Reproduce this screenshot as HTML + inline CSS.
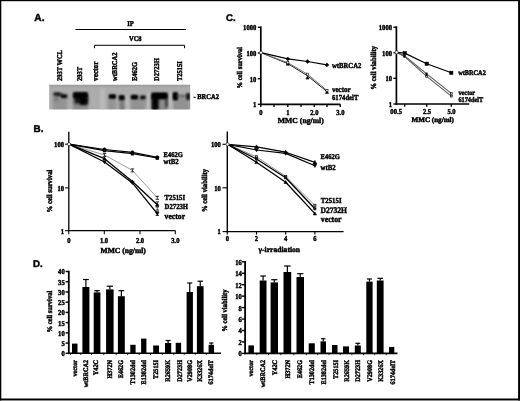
<!DOCTYPE html>
<html lang="en">
<head>
<meta charset="utf-8">
<title>Figure</title>
<style>
html,body{margin:0;padding:0;background:#fff;}
body{width:520px;height:401px;overflow:hidden;}
svg{display:block;}
text{fill:#000;stroke:#000;stroke-width:0.45px;stroke-linejoin:round;}
</style>
</head>
<body>
<svg width="520" height="401" viewBox="0 0 520 401" text-rendering="geometricPrecision">
<defs><filter id="soft" x="0" y="0" width="100%" height="100%" filterUnits="userSpaceOnUse"><feGaussianBlur stdDeviation="0.4"/></filter></defs>
<g filter="url(#soft)">
<rect x="0" y="0" width="520" height="401" fill="#fff"/>
<text x="34.30" y="20.80" font-size="10.2" text-anchor="start" font-weight="bold" font-family='"Liberation Sans", sans-serif'>A.</text>
<text x="33.60" y="132.40" font-size="9.9" text-anchor="start" font-weight="bold" font-family='"Liberation Sans", sans-serif'>B.</text>
<text x="225.90" y="20.70" font-size="9.7" text-anchor="start" font-weight="bold" font-family='"Liberation Sans", sans-serif'>C.</text>
<text x="33.10" y="267.30" font-size="9.7" text-anchor="start" font-weight="bold" font-family='"Liberation Sans", sans-serif'>D.</text>
<text x="0.00" y="0.00" font-size="7.34" text-anchor="middle" font-weight="bold" font-family='"Liberation Serif", serif' transform="translate(130.60 26.00) rotate(0) scale(0.885 1)">IP</text>
<line x1="75.50" y1="29.50" x2="186.00" y2="29.50" stroke="#000" stroke-width="1.0"/>
<text x="0.00" y="0.00" font-size="7.34" text-anchor="middle" font-weight="bold" font-family='"Liberation Serif", serif' transform="translate(135.30 41.00) rotate(0) scale(0.885 1)">VC8</text>
<polyline points="94.50,48.20 94.50,45.30 184.50,45.30 184.50,48.20" fill="none" stroke="#000" stroke-width="1.0" stroke-linejoin="round"/>
<text x="0.00" y="0.00" font-size="7.34" text-anchor="start" font-weight="bold" font-family='"Liberation Serif", serif' transform="translate(62.30 81.00) rotate(-90) scale(0.885 1)">293T WCL</text>
<text x="0.00" y="0.00" font-size="7.34" text-anchor="start" font-weight="bold" font-family='"Liberation Serif", serif' transform="translate(81.70 81.00) rotate(-90) scale(0.885 1)">293T</text>
<text x="0.00" y="0.00" font-size="8.25" text-anchor="start" font-weight="bold" font-family='"Liberation Serif", serif' transform="translate(97.50 81.00) rotate(-90) scale(0.885 1)">vector</text>
<text x="0.00" y="0.00" font-size="7.34" text-anchor="start" font-weight="bold" font-family='"Liberation Serif", serif' transform="translate(116.50 81.00) rotate(-90) scale(0.885 1)">wtBRCA2</text>
<text x="0.00" y="0.00" font-size="7.34" text-anchor="start" font-weight="bold" font-family='"Liberation Serif", serif' transform="translate(136.50 81.00) rotate(-90) scale(0.885 1)">E462G</text>
<text x="0.00" y="0.00" font-size="7.34" text-anchor="start" font-weight="bold" font-family='"Liberation Serif", serif' transform="translate(158.50 81.00) rotate(-90) scale(0.885 1)">D2723H</text>
<text x="0.00" y="0.00" font-size="7.34" text-anchor="start" font-weight="bold" font-family='"Liberation Serif", serif' transform="translate(182.00 81.00) rotate(-90) scale(0.885 1)">T2515I</text>
<defs><filter id="b1" x="-30%" y="-60%" width="160%" height="220%"><feGaussianBlur stdDeviation="1.1"/></filter><filter id="b2" x="-30%" y="-60%" width="160%" height="220%"><feGaussianBlur stdDeviation="1.8"/></filter><clipPath id="blotclip"><rect x="49.2" y="84.8" width="141" height="24.6"/></clipPath></defs>
<rect x="49.20" y="84.80" width="141.00" height="24.60" fill="#acacac" stroke="none" stroke-width="0"/>
<g clip-path="url(#blotclip)">
<rect x="49" y="83.5" width="142" height="2.5" fill="#888" opacity="0.6" filter="url(#b1)"/>
<rect x="53" y="97" width="14" height="14" fill="#777" opacity="0.45" filter="url(#b2)"/>
<rect x="73" y="97" width="15" height="14" fill="#666" opacity="0.5" filter="url(#b2)"/>
<rect x="108" y="98" width="8" height="13" fill="#777" opacity="0.45" filter="url(#b2)"/>
<rect x="119.5" y="98" width="5" height="13" fill="#555" opacity="0.6" filter="url(#b2)"/>
<rect x="130.5" y="98" width="15" height="13" fill="#777" opacity="0.5" filter="url(#b2)"/>
<rect x="151.5" y="97" width="16" height="14" fill="#555" opacity="0.6" filter="url(#b2)"/>
<rect x="173" y="97" width="16.5" height="14" fill="#777" opacity="0.5" filter="url(#b2)"/>
<rect x="100" y="88" width="5" height="22" fill="#c4c4c4" opacity="0.6" filter="url(#b2)"/>
<rect x="126" y="96" width="3.5" height="14" fill="#c4c4c4" opacity="0.6" filter="url(#b2)"/>
<rect x="147.2" y="92" width="3.2" height="18" fill="#c8c8c8" opacity="0.7" filter="url(#b2)"/>
<rect x="169.2" y="92" width="3.0" height="18" fill="#c8c8c8" opacity="0.7" filter="url(#b2)"/>
<rect x="53.5" y="92.6" width="7" height="3.0" fill="#000" opacity="1" filter="url(#b1)"/>
<rect x="57" y="93.6" width="6" height="2.6" fill="#222" opacity="0.85" filter="url(#b1)"/>
<rect x="61" y="94.4" width="6.2" height="3.6" fill="#000" opacity="1" filter="url(#b1)"/>
<rect x="54" y="96" width="4" height="5" fill="#555" opacity="0.5" filter="url(#b2)"/>
<rect x="73.3" y="92.3" width="14.2" height="5.5" fill="#000" opacity="1" filter="url(#b1)"/>
<rect x="73.8" y="93.0" width="13.5" height="4.5" fill="#000" opacity="1" filter="url(#b1)"/>
<rect x="74.5" y="96" width="13" height="7.5" fill="#000" opacity="0.9" filter="url(#b2)"/>
<rect x="80" y="98" width="7.5" height="7" fill="#000" opacity="0.85" filter="url(#b1)"/>
<rect x="108.8" y="94.6" width="7" height="3.8" fill="#000" opacity="1" filter="url(#b1)"/>
<rect x="110" y="95.0" width="5" height="3.0" fill="#000" opacity="1" filter="url(#b1)"/>
<rect x="118.8" y="95.4" width="5.6" height="4.2" fill="#000" opacity="1" filter="url(#b1)"/>
<rect x="120" y="96.0" width="3.6" height="3.4" fill="#000" opacity="1" filter="url(#b1)"/>
<rect x="130.8" y="95.2" width="7.2" height="3.8" fill="#000" opacity="1" filter="url(#b1)"/>
<rect x="132" y="95.6" width="5" height="3.0" fill="#000" opacity="1" filter="url(#b1)"/>
<rect x="140.2" y="95.6" width="5.4" height="3.6" fill="#000" opacity="1" filter="url(#b1)"/>
<rect x="151.5" y="92.8" width="16" height="6" fill="#000" opacity="1" filter="url(#b1)"/>
<rect x="152" y="93.4" width="15" height="5" fill="#000" opacity="1" filter="url(#b1)"/>
<rect x="152" y="97" width="7" height="13" fill="#000" opacity="0.9" filter="url(#b2)"/>
<rect x="152.5" y="99" width="4" height="11" fill="#000" opacity="0.7" filter="url(#b1)"/>
<rect x="165" y="98" width="2.6" height="9" fill="#222" opacity="0.7" filter="url(#b1)"/>
<rect x="159.5" y="100.5" width="5" height="9" fill="#999" opacity="0.7" filter="url(#b1)"/>
<rect x="173" y="92.4" width="4.6" height="7.6" fill="#000" opacity="1" filter="url(#b1)"/>
<rect x="173.4" y="93" width="4" height="6.4" fill="#000" opacity="1" filter="url(#b1)"/>
<rect x="177" y="94.6" width="10" height="2.6" fill="#555" opacity="0.8" filter="url(#b1)"/>
<rect x="186.4" y="93.2" width="3.4" height="6.6" fill="#000" opacity="1" filter="url(#b1)"/>
</g>
<text x="0.00" y="0.00" font-size="7.34" text-anchor="start" font-weight="bold" font-family='"Liberation Serif", serif' transform="translate(193.50 99.00) rotate(0) scale(0.885 1)">- BRCA2</text>
<line x1="260.80" y1="26.45" x2="260.80" y2="105.15" stroke="#000" stroke-width="1.7"/>
<line x1="259.95" y1="104.30" x2="340.30" y2="104.30" stroke="#000" stroke-width="1.7"/>
<line x1="257.80" y1="27.30" x2="260.80" y2="27.30" stroke="#000" stroke-width="1.36"/>
<line x1="257.80" y1="53.00" x2="260.80" y2="53.00" stroke="#000" stroke-width="1.36"/>
<line x1="257.80" y1="78.70" x2="260.80" y2="78.70" stroke="#000" stroke-width="1.36"/>
<line x1="257.80" y1="104.30" x2="260.80" y2="104.30" stroke="#000" stroke-width="1.36"/>
<line x1="260.80" y1="104.30" x2="260.80" y2="107.00" stroke="#000" stroke-width="1.36"/>
<line x1="274.00" y1="104.30" x2="274.00" y2="107.00" stroke="#000" stroke-width="1.36"/>
<line x1="287.80" y1="104.30" x2="287.80" y2="107.00" stroke="#000" stroke-width="1.36"/>
<line x1="301.00" y1="104.30" x2="301.00" y2="107.00" stroke="#000" stroke-width="1.36"/>
<line x1="314.30" y1="104.30" x2="314.30" y2="107.00" stroke="#000" stroke-width="1.36"/>
<line x1="327.00" y1="104.30" x2="327.00" y2="107.00" stroke="#000" stroke-width="1.36"/>
<line x1="340.30" y1="104.30" x2="340.30" y2="107.00" stroke="#000" stroke-width="1.36"/>
<text x="0.00" y="0.00" font-size="7.46" text-anchor="end" font-weight="bold" font-family='"Liberation Serif", serif' transform="translate(256.30 30.20) rotate(0) scale(0.885 1)">1000</text>
<text x="0.00" y="0.00" font-size="7.46" text-anchor="end" font-weight="bold" font-family='"Liberation Serif", serif' transform="translate(256.30 55.90) rotate(0) scale(0.885 1)">100</text>
<text x="0.00" y="0.00" font-size="7.46" text-anchor="end" font-weight="bold" font-family='"Liberation Serif", serif' transform="translate(256.30 81.60) rotate(0) scale(0.885 1)">10</text>
<text x="0.00" y="0.00" font-size="7.46" text-anchor="end" font-weight="bold" font-family='"Liberation Serif", serif' transform="translate(256.30 107.20) rotate(0) scale(0.885 1)">1</text>
<text x="0.00" y="0.00" font-size="7.46" text-anchor="middle" font-weight="bold" font-family='"Liberation Serif", serif' transform="translate(260.80 115.20) rotate(0) scale(0.885 1)">0</text>
<text x="0.00" y="0.00" font-size="7.46" text-anchor="middle" font-weight="bold" font-family='"Liberation Serif", serif' transform="translate(287.80 115.20) rotate(0) scale(0.885 1)">1</text>
<text x="0.00" y="0.00" font-size="7.46" text-anchor="middle" font-weight="bold" font-family='"Liberation Serif", serif' transform="translate(314.30 115.20) rotate(0) scale(0.885 1)">2.0</text>
<text x="0.00" y="0.00" font-size="7.46" text-anchor="middle" font-weight="bold" font-family='"Liberation Serif", serif' transform="translate(340.30 115.20) rotate(0) scale(0.885 1)">3.0</text>
<text x="0.00" y="0.00" font-size="7.7" text-anchor="middle" font-weight="bold" font-family='"Liberation Serif", serif' transform="translate(300.80 122.60) rotate(0) scale(1.0 1)">MMC (ng/ml)</text>
<text x="0.00" y="0.00" font-size="7.34" text-anchor="middle" font-weight="bold" font-family='"Liberation Serif", serif' transform="translate(242.00 67.70) rotate(-90) scale(0.885 1)">% cell survival</text>
<polyline points="261.00,52.70 287.80,63.60 307.50,75.80 327.00,91.60" fill="none" stroke="#000" stroke-width="0.9" stroke-linejoin="round"/>
<polyline points="261.00,52.70 287.80,62.70 307.50,74.20 327.00,90.40" fill="none" stroke="#777" stroke-width="1.0" stroke-linejoin="round"/>
<polyline points="261.00,52.70 287.80,58.90 307.50,61.50 327.00,64.90" fill="none" stroke="#000" stroke-width="1.2" stroke-linejoin="round"/>
<polygon points="287.80,62.34 289.36,65.15 286.24,65.15" fill="#000" stroke="#000" stroke-width="0.6"/>
<polygon points="307.50,76.24 309.06,79.05 305.94,79.05" fill="#000" stroke="#000" stroke-width="0.6"/>
<polygon points="327.00,90.64 328.56,93.45 325.44,93.45" fill="#000" stroke="#000" stroke-width="0.6"/>
<rect x="286.75" y="61.65" width="2.10" height="2.10" fill="#fff" stroke="#000" stroke-width="0.6"/>
<rect x="306.45" y="73.15" width="2.10" height="2.10" fill="#fff" stroke="#000" stroke-width="0.6"/>
<rect x="325.95" y="89.35" width="2.10" height="2.10" fill="#fff" stroke="#000" stroke-width="0.6"/>
<polygon points="287.80,57.02 289.68,58.90 287.80,60.77 285.93,58.90" fill="#000" stroke="#000" stroke-width="0.6"/>
<polygon points="307.50,59.62 309.38,61.50 307.50,63.38 305.62,61.50" fill="#000" stroke="#000" stroke-width="0.6"/>
<polygon points="327.00,63.03 328.88,64.90 327.00,66.78 325.12,64.90" fill="#000" stroke="#000" stroke-width="0.6"/>
<circle cx="261.00" cy="52.70" r="1.6" fill="#fff" stroke="#000" stroke-width="0.6"/>
<text x="0.00" y="0.00" font-size="7.57" text-anchor="start" font-weight="bold" font-family='"Liberation Serif", serif' transform="translate(332.00 67.50) rotate(0) scale(0.885 1)">wtBRCA2</text>
<text x="0.00" y="0.00" font-size="7.91" text-anchor="start" font-weight="bold" font-family='"Liberation Serif", serif' transform="translate(332.00 92.40) rotate(0) scale(0.885 1)">vector</text>
<text x="0.00" y="0.00" font-size="7.57" text-anchor="start" font-weight="bold" font-family='"Liberation Serif", serif' transform="translate(332.00 99.70) rotate(0) scale(0.885 1)">6174delT</text>
<line x1="396.40" y1="26.35" x2="396.40" y2="104.85" stroke="#000" stroke-width="1.7"/>
<line x1="395.55" y1="104.00" x2="469.20" y2="104.00" stroke="#000" stroke-width="1.7"/>
<line x1="393.40" y1="27.20" x2="396.40" y2="27.20" stroke="#000" stroke-width="1.36"/>
<line x1="393.40" y1="52.70" x2="396.40" y2="52.70" stroke="#000" stroke-width="1.36"/>
<line x1="393.40" y1="78.30" x2="396.40" y2="78.30" stroke="#000" stroke-width="1.36"/>
<line x1="393.40" y1="104.00" x2="396.40" y2="104.00" stroke="#000" stroke-width="1.36"/>
<line x1="404.70" y1="104.00" x2="404.70" y2="106.70" stroke="#000" stroke-width="1.36"/>
<line x1="426.70" y1="104.00" x2="426.70" y2="106.70" stroke="#000" stroke-width="1.36"/>
<line x1="451.30" y1="104.00" x2="451.30" y2="106.70" stroke="#000" stroke-width="1.36"/>
<text x="0.00" y="0.00" font-size="7.46" text-anchor="end" font-weight="bold" font-family='"Liberation Serif", serif' transform="translate(392.00 30.10) rotate(0) scale(0.885 1)">1000</text>
<text x="0.00" y="0.00" font-size="7.46" text-anchor="end" font-weight="bold" font-family='"Liberation Serif", serif' transform="translate(392.00 55.60) rotate(0) scale(0.885 1)">100</text>
<text x="0.00" y="0.00" font-size="7.46" text-anchor="end" font-weight="bold" font-family='"Liberation Serif", serif' transform="translate(392.00 81.20) rotate(0) scale(0.885 1)">10</text>
<text x="0.00" y="0.00" font-size="7.46" text-anchor="end" font-weight="bold" font-family='"Liberation Serif", serif' transform="translate(392.00 106.70) rotate(0) scale(0.885 1)">1</text>
<text x="0.00" y="0.00" font-size="7.57" text-anchor="middle" font-weight="bold" font-family='"Liberation Serif", serif' transform="translate(396.20 113.60) rotate(0) scale(0.885 1)">00.5</text>
<text x="0.00" y="0.00" font-size="7.46" text-anchor="middle" font-weight="bold" font-family='"Liberation Serif", serif' transform="translate(427.00 113.60) rotate(0) scale(0.885 1)">2.5</text>
<text x="0.00" y="0.00" font-size="7.46" text-anchor="middle" font-weight="bold" font-family='"Liberation Serif", serif' transform="translate(451.50 113.60) rotate(0) scale(0.885 1)">5.0</text>
<text x="0.00" y="0.00" font-size="7.1" text-anchor="middle" font-weight="bold" font-family='"Liberation Serif", serif' transform="translate(432.70 122.30) rotate(0) scale(1.0 1)">MMC (ng/ml)</text>
<text x="0.00" y="0.00" font-size="7.68" text-anchor="middle" font-weight="bold" font-family='"Liberation Serif", serif' transform="translate(376.20 67.80) rotate(-90) scale(0.885 1)">% cell viability</text>
<polyline points="396.50,52.30 404.70,56.70 426.70,76.40 451.30,96.10" fill="none" stroke="#5a5a5a" stroke-width="1.1" stroke-linejoin="round"/>
<polyline points="396.50,52.30 404.70,55.90 426.70,73.90 451.30,93.40" fill="none" stroke="#5a5a5a" stroke-width="1.1" stroke-linejoin="round"/>
<polyline points="396.50,52.30 404.70,53.10 426.70,63.70 451.30,72.80" fill="none" stroke="#000" stroke-width="1.2" stroke-linejoin="round"/>
<rect x="403.75" y="55.75" width="1.90" height="1.90" fill="#bbb" stroke="#000" stroke-width="0.6"/>
<rect x="425.75" y="75.45" width="1.90" height="1.90" fill="#bbb" stroke="#000" stroke-width="0.6"/>
<rect x="450.35" y="95.15" width="1.90" height="1.90" fill="#bbb" stroke="#000" stroke-width="0.6"/>
<rect x="403.75" y="54.95" width="1.90" height="1.90" fill="#ddd" stroke="#000" stroke-width="0.6"/>
<rect x="425.75" y="72.95" width="1.90" height="1.90" fill="#ddd" stroke="#000" stroke-width="0.6"/>
<rect x="450.35" y="92.45" width="1.90" height="1.90" fill="#ddd" stroke="#000" stroke-width="0.6"/>
<rect x="403.10" y="51.50" width="3.20" height="3.20" fill="#000" stroke="#000" stroke-width="0.6"/>
<rect x="425.10" y="62.10" width="3.20" height="3.20" fill="#000" stroke="#000" stroke-width="0.6"/>
<rect x="449.70" y="71.20" width="3.20" height="3.20" fill="#000" stroke="#000" stroke-width="0.6"/>
<circle cx="396.50" cy="52.30" r="1.6" fill="#fff" stroke="#000" stroke-width="0.6"/>
<text x="0.00" y="0.00" font-size="7.12" text-anchor="start" font-weight="bold" font-family='"Liberation Serif", serif' transform="translate(458.20 75.20) rotate(0) scale(0.885 1)">wtBRCA2</text>
<text x="0.00" y="0.00" font-size="7.12" text-anchor="start" font-weight="bold" font-family='"Liberation Serif", serif' transform="translate(458.40 94.50) rotate(0) scale(0.885 1)">vector</text>
<text x="0.00" y="0.00" font-size="7.12" text-anchor="start" font-weight="bold" font-family='"Liberation Serif", serif' transform="translate(458.40 102.30) rotate(0) scale(0.885 1)">6174delT</text>
<line x1="68.80" y1="131.85" x2="68.80" y2="231.35" stroke="#000" stroke-width="1.3"/>
<line x1="68.15" y1="230.70" x2="175.50" y2="230.70" stroke="#000" stroke-width="1.3"/>
<line x1="65.00" y1="144.20" x2="68.80" y2="144.20" stroke="#000" stroke-width="1.04"/>
<line x1="65.00" y1="187.90" x2="68.80" y2="187.90" stroke="#000" stroke-width="1.04"/>
<line x1="65.00" y1="230.70" x2="68.80" y2="230.70" stroke="#000" stroke-width="1.04"/>
<line x1="68.80" y1="230.70" x2="68.80" y2="234.20" stroke="#000" stroke-width="1.04"/>
<line x1="104.30" y1="230.70" x2="104.30" y2="234.20" stroke="#000" stroke-width="1.04"/>
<line x1="140.00" y1="230.70" x2="140.00" y2="234.20" stroke="#000" stroke-width="1.04"/>
<line x1="175.30" y1="230.70" x2="175.30" y2="234.20" stroke="#000" stroke-width="1.04"/>
<text x="0.00" y="0.00" font-size="7.46" text-anchor="end" font-weight="bold" font-family='"Liberation Serif", serif' transform="translate(64.00 147.10) rotate(0) scale(0.885 1)">100</text>
<text x="0.00" y="0.00" font-size="7.46" text-anchor="end" font-weight="bold" font-family='"Liberation Serif", serif' transform="translate(64.00 190.80) rotate(0) scale(0.885 1)">10</text>
<text x="0.00" y="0.00" font-size="7.46" text-anchor="end" font-weight="bold" font-family='"Liberation Serif", serif' transform="translate(64.00 233.50) rotate(0) scale(0.885 1)">1</text>
<text x="0.00" y="0.00" font-size="7.46" text-anchor="middle" font-weight="bold" font-family='"Liberation Serif", serif' transform="translate(68.80 242.80) rotate(0) scale(0.885 1)">0</text>
<text x="0.00" y="0.00" font-size="7.46" text-anchor="middle" font-weight="bold" font-family='"Liberation Serif", serif' transform="translate(104.00 242.80) rotate(0) scale(0.885 1)">1.0</text>
<text x="0.00" y="0.00" font-size="7.46" text-anchor="middle" font-weight="bold" font-family='"Liberation Serif", serif' transform="translate(140.00 242.80) rotate(0) scale(0.885 1)">2.0</text>
<text x="0.00" y="0.00" font-size="7.46" text-anchor="middle" font-weight="bold" font-family='"Liberation Serif", serif' transform="translate(175.30 242.80) rotate(0) scale(0.885 1)">3.0</text>
<text x="0.00" y="0.00" font-size="7.6" text-anchor="middle" font-weight="bold" font-family='"Liberation Serif", serif' transform="translate(123.20 253.30) rotate(0) scale(1.0 1)">MMC (ng/ml)</text>
<text x="0.00" y="0.00" font-size="7.57" text-anchor="middle" font-weight="bold" font-family='"Liberation Serif", serif' transform="translate(52.00 191.00) rotate(-90) scale(0.885 1)">% cell survival</text>
<polyline points="69.00,144.20 104.50,155.00 132.40,170.40 157.30,197.80" fill="none" stroke="#555" stroke-width="0.6" stroke-linejoin="round"/>
<polyline points="69.00,144.20 104.50,158.70 132.40,181.60 157.30,204.80" fill="none" stroke="#000" stroke-width="1.3" stroke-linejoin="round"/>
<polyline points="69.00,144.20 104.50,162.00 132.40,182.90 157.30,213.60" fill="none" stroke="#000" stroke-width="1.3" stroke-linejoin="round"/>
<polyline points="69.00,144.20 104.50,150.60 132.40,153.70 157.30,158.00" fill="none" stroke="#000" stroke-width="1.2" stroke-linejoin="round"/>
<polyline points="69.00,144.20 104.50,149.50 132.40,152.40 157.30,157.40" fill="none" stroke="#000" stroke-width="1.2" stroke-linejoin="round"/>
<line x1="104.50" y1="153.50" x2="104.50" y2="156.50" stroke="#000" stroke-width="0.7"/>
<line x1="102.80" y1="153.50" x2="106.20" y2="153.50" stroke="#000" stroke-width="0.8"/>
<line x1="102.80" y1="156.50" x2="106.20" y2="156.50" stroke="#000" stroke-width="0.8"/>
<line x1="132.40" y1="168.90" x2="132.40" y2="171.90" stroke="#000" stroke-width="0.7"/>
<line x1="130.70" y1="168.90" x2="134.10" y2="168.90" stroke="#000" stroke-width="0.8"/>
<line x1="130.70" y1="171.90" x2="134.10" y2="171.90" stroke="#000" stroke-width="0.8"/>
<line x1="157.30" y1="196.30" x2="157.30" y2="199.30" stroke="#000" stroke-width="0.7"/>
<line x1="155.60" y1="196.30" x2="159.00" y2="196.30" stroke="#000" stroke-width="0.8"/>
<line x1="155.60" y1="199.30" x2="159.00" y2="199.30" stroke="#000" stroke-width="0.8"/>
<polygon points="104.50,157.02 106.18,160.04 102.82,160.04" fill="#000" stroke="#000" stroke-width="0.6"/>
<polygon points="132.40,179.92 134.08,182.94 130.72,182.94" fill="#000" stroke="#000" stroke-width="0.6"/>
<polygon points="157.30,203.12 158.98,206.14 155.62,206.14" fill="#000" stroke="#000" stroke-width="0.6"/>
<polygon points="104.50,163.68 106.18,160.66 102.82,160.66" fill="#000" stroke="#000" stroke-width="0.6"/>
<polygon points="132.40,184.58 134.08,181.56 130.72,181.56" fill="#000" stroke="#000" stroke-width="0.6"/>
<polygon points="157.30,215.28 158.98,212.26 155.62,212.26" fill="#000" stroke="#000" stroke-width="0.6"/>
<line x1="157.30" y1="201.90" x2="157.30" y2="205.10" stroke="#000" stroke-width="0.7"/>
<line x1="155.60" y1="201.90" x2="159.00" y2="201.90" stroke="#000" stroke-width="0.8"/>
<line x1="155.60" y1="205.10" x2="159.00" y2="205.10" stroke="#000" stroke-width="0.8"/>
<line x1="157.30" y1="206.90" x2="157.30" y2="210.10" stroke="#000" stroke-width="0.7"/>
<line x1="155.60" y1="206.90" x2="159.00" y2="206.90" stroke="#000" stroke-width="0.8"/>
<line x1="155.60" y1="210.10" x2="159.00" y2="210.10" stroke="#000" stroke-width="0.8"/>
<line x1="157.30" y1="211.80" x2="157.30" y2="215.40" stroke="#000" stroke-width="0.7"/>
<line x1="155.60" y1="211.80" x2="159.00" y2="211.80" stroke="#000" stroke-width="0.8"/>
<line x1="155.60" y1="215.40" x2="159.00" y2="215.40" stroke="#000" stroke-width="0.8"/>
<rect x="103.10" y="149.20" width="2.80" height="2.80" fill="#000" stroke="#000" stroke-width="0.6"/>
<rect x="131.00" y="152.30" width="2.80" height="2.80" fill="#000" stroke="#000" stroke-width="0.6"/>
<rect x="155.90" y="156.60" width="2.80" height="2.80" fill="#000" stroke="#000" stroke-width="0.6"/>
<circle cx="104.50" cy="149.50" r="1.7" fill="#000" stroke="#000" stroke-width="0.6"/>
<circle cx="132.40" cy="152.40" r="1.7" fill="#000" stroke="#000" stroke-width="0.6"/>
<circle cx="157.30" cy="157.40" r="1.7" fill="#000" stroke="#000" stroke-width="0.6"/>
<circle cx="69.00" cy="144.20" r="1.6" fill="#fff" stroke="#000" stroke-width="0.6"/>
<text x="0.00" y="0.00" font-size="7.34" text-anchor="start" font-weight="bold" font-family='"Liberation Serif", serif' transform="translate(163.60 157.20) rotate(0) scale(0.885 1)">E462G</text>
<text x="0.00" y="0.00" font-size="7.68" text-anchor="start" font-weight="bold" font-family='"Liberation Serif", serif' transform="translate(163.60 163.90) rotate(0) scale(0.885 1)">wtB2</text>
<text x="0.00" y="0.00" font-size="7.57" text-anchor="start" font-weight="bold" font-family='"Liberation Serif", serif' transform="translate(164.60 199.50) rotate(0) scale(0.885 1)">T2515I</text>
<text x="0.00" y="0.00" font-size="7.57" text-anchor="start" font-weight="bold" font-family='"Liberation Serif", serif' transform="translate(164.60 209.20) rotate(0) scale(0.885 1)">D2723H</text>
<text x="0.00" y="0.00" font-size="8.7" text-anchor="start" font-weight="bold" font-family='"Liberation Serif", serif' transform="translate(164.60 218.70) rotate(0) scale(0.885 1)">vector</text>
<line x1="227.30" y1="131.60" x2="227.30" y2="232.30" stroke="#000" stroke-width="1.4"/>
<line x1="226.60" y1="231.60" x2="343.60" y2="231.60" stroke="#000" stroke-width="1.4"/>
<line x1="222.50" y1="144.30" x2="227.30" y2="144.30" stroke="#000" stroke-width="1.1199999999999999"/>
<line x1="222.50" y1="187.80" x2="227.30" y2="187.80" stroke="#000" stroke-width="1.1199999999999999"/>
<line x1="222.50" y1="231.60" x2="227.30" y2="231.60" stroke="#000" stroke-width="1.1199999999999999"/>
<line x1="227.30" y1="231.60" x2="227.30" y2="234.60" stroke="#000" stroke-width="1.1199999999999999"/>
<line x1="256.50" y1="231.60" x2="256.50" y2="234.60" stroke="#000" stroke-width="1.1199999999999999"/>
<line x1="285.70" y1="231.60" x2="285.70" y2="234.60" stroke="#000" stroke-width="1.1199999999999999"/>
<line x1="314.90" y1="231.60" x2="314.90" y2="234.60" stroke="#000" stroke-width="1.1199999999999999"/>
<text x="0.00" y="0.00" font-size="7.46" text-anchor="end" font-weight="bold" font-family='"Liberation Serif", serif' transform="translate(220.80 147.20) rotate(0) scale(0.885 1)">100</text>
<text x="0.00" y="0.00" font-size="7.46" text-anchor="end" font-weight="bold" font-family='"Liberation Serif", serif' transform="translate(220.80 190.70) rotate(0) scale(0.885 1)">10</text>
<text x="0.00" y="0.00" font-size="7.46" text-anchor="end" font-weight="bold" font-family='"Liberation Serif", serif' transform="translate(220.80 234.20) rotate(0) scale(0.885 1)">1</text>
<text x="0.00" y="0.00" font-size="7.46" text-anchor="middle" font-weight="bold" font-family='"Liberation Serif", serif' transform="translate(227.30 241.00) rotate(0) scale(0.885 1)">0</text>
<text x="0.00" y="0.00" font-size="7.46" text-anchor="middle" font-weight="bold" font-family='"Liberation Serif", serif' transform="translate(256.50 241.00) rotate(0) scale(0.885 1)">2</text>
<text x="0.00" y="0.00" font-size="7.46" text-anchor="middle" font-weight="bold" font-family='"Liberation Serif", serif' transform="translate(285.70 241.00) rotate(0) scale(0.885 1)">4</text>
<text x="0.00" y="0.00" font-size="7.46" text-anchor="middle" font-weight="bold" font-family='"Liberation Serif", serif' transform="translate(314.90 241.00) rotate(0) scale(0.885 1)">6</text>
<text x="0.00" y="0.00" font-size="7.6" text-anchor="middle" font-weight="bold" font-family='"Liberation Serif", serif' transform="translate(279.30 251.70) rotate(0) scale(1.0 1)">&#947;-irradiation</text>
<text x="0.00" y="0.00" font-size="7.57" text-anchor="middle" font-weight="bold" font-family='"Liberation Serif", serif' transform="translate(206.60 190.50) rotate(-90) scale(0.885 1)">% cell viability</text>
<polyline points="227.50,144.30 256.50,156.80 285.70,176.40 314.90,205.30" fill="none" stroke="#777" stroke-width="0.8" stroke-linejoin="round"/>
<polyline points="227.50,144.30 256.50,159.00 285.70,177.80 314.90,208.80" fill="none" stroke="#000" stroke-width="1.3" stroke-linejoin="round"/>
<polyline points="227.50,144.30 256.50,162.20 285.70,182.20 314.90,213.60" fill="none" stroke="#000" stroke-width="1.3" stroke-linejoin="round"/>
<polyline points="227.50,144.30 256.50,150.00 285.70,153.40 314.90,165.70" fill="none" stroke="#000" stroke-width="1.2" stroke-linejoin="round"/>
<polyline points="227.50,144.30 256.50,146.80 285.70,152.20 314.90,162.40" fill="none" stroke="#000" stroke-width="1.2" stroke-linejoin="round"/>
<rect x="255.40" y="155.70" width="2.20" height="2.20" fill="#888" stroke="#000" stroke-width="0.6"/>
<rect x="284.60" y="175.30" width="2.20" height="2.20" fill="#888" stroke="#000" stroke-width="0.6"/>
<rect x="313.80" y="204.20" width="2.20" height="2.20" fill="#888" stroke="#000" stroke-width="0.6"/>
<rect x="255.40" y="157.90" width="2.20" height="2.20" fill="#222" stroke="#000" stroke-width="0.6"/>
<rect x="284.60" y="176.70" width="2.20" height="2.20" fill="#222" stroke="#000" stroke-width="0.6"/>
<rect x="313.80" y="207.70" width="2.20" height="2.20" fill="#222" stroke="#000" stroke-width="0.6"/>
<polygon points="256.50,160.52 258.18,163.54 254.82,163.54" fill="#000" stroke="#000" stroke-width="0.6"/>
<polygon points="285.70,180.52 287.38,183.54 284.02,183.54" fill="#000" stroke="#000" stroke-width="0.6"/>
<polygon points="314.90,211.92 316.58,214.94 313.22,214.94" fill="#000" stroke="#000" stroke-width="0.6"/>
<polygon points="256.50,151.80 258.30,148.56 254.70,148.56" fill="#000" stroke="#000" stroke-width="0.6"/>
<polygon points="285.70,155.20 287.50,151.96 283.90,151.96" fill="#000" stroke="#000" stroke-width="0.6"/>
<polygon points="314.90,167.50 316.70,164.26 313.10,164.26" fill="#000" stroke="#000" stroke-width="0.6"/>
<polygon points="256.50,144.88 258.42,148.34 254.58,148.34" fill="#000" stroke="#000" stroke-width="0.6"/>
<polygon points="285.70,150.28 287.62,153.74 283.78,153.74" fill="#000" stroke="#000" stroke-width="0.6"/>
<polygon points="314.90,160.48 316.82,163.94 312.98,163.94" fill="#000" stroke="#000" stroke-width="0.6"/>
<circle cx="227.50" cy="144.30" r="1.6" fill="#fff" stroke="#000" stroke-width="0.6"/>
<text x="0.00" y="0.00" font-size="7.34" text-anchor="start" font-weight="bold" font-family='"Liberation Serif", serif' transform="translate(320.60 158.90) rotate(0) scale(0.885 1)">E462G</text>
<text x="0.00" y="0.00" font-size="7.68" text-anchor="start" font-weight="bold" font-family='"Liberation Serif", serif' transform="translate(320.60 169.70) rotate(0) scale(0.885 1)">wtB2</text>
<text x="0.00" y="0.00" font-size="7.68" text-anchor="start" font-weight="bold" font-family='"Liberation Serif", serif' transform="translate(320.80 202.50) rotate(0) scale(0.885 1)">T2515I</text>
<text x="0.00" y="0.00" font-size="8.59" text-anchor="start" font-weight="bold" font-family='"Liberation Serif", serif' transform="translate(320.40 212.80) rotate(0) scale(0.885 1)">D2732H</text>
<text x="0.00" y="0.00" font-size="8.81" text-anchor="start" font-weight="bold" font-family='"Liberation Serif", serif' transform="translate(320.80 222.00) rotate(0) scale(0.885 1)">vector</text>
<line x1="68.80" y1="270.80" x2="68.80" y2="354.10" stroke="#000" stroke-width="1.8"/>
<line x1="67.90" y1="353.30" x2="221.00" y2="353.30" stroke="#000" stroke-width="1.6"/>
<line x1="65.60" y1="353.30" x2="68.80" y2="353.30" stroke="#000" stroke-width="1.4"/>
<text x="0.00" y="0.00" font-size="7.46" text-anchor="end" font-weight="bold" font-family='"Liberation Serif", serif' transform="translate(64.70 356.20) rotate(0) scale(0.885 1)">0</text>
<line x1="65.60" y1="343.07" x2="68.80" y2="343.07" stroke="#000" stroke-width="1.4"/>
<text x="0.00" y="0.00" font-size="7.46" text-anchor="end" font-weight="bold" font-family='"Liberation Serif", serif' transform="translate(64.70 345.97) rotate(0) scale(0.885 1)">5</text>
<line x1="65.60" y1="332.85" x2="68.80" y2="332.85" stroke="#000" stroke-width="1.4"/>
<text x="0.00" y="0.00" font-size="7.46" text-anchor="end" font-weight="bold" font-family='"Liberation Serif", serif' transform="translate(64.70 335.75) rotate(0) scale(0.885 1)">10</text>
<line x1="65.60" y1="322.62" x2="68.80" y2="322.62" stroke="#000" stroke-width="1.4"/>
<text x="0.00" y="0.00" font-size="7.46" text-anchor="end" font-weight="bold" font-family='"Liberation Serif", serif' transform="translate(64.70 325.52) rotate(0) scale(0.885 1)">15</text>
<line x1="65.60" y1="312.40" x2="68.80" y2="312.40" stroke="#000" stroke-width="1.4"/>
<text x="0.00" y="0.00" font-size="7.46" text-anchor="end" font-weight="bold" font-family='"Liberation Serif", serif' transform="translate(64.70 315.30) rotate(0) scale(0.885 1)">20</text>
<line x1="65.60" y1="302.18" x2="68.80" y2="302.18" stroke="#000" stroke-width="1.4"/>
<text x="0.00" y="0.00" font-size="7.46" text-anchor="end" font-weight="bold" font-family='"Liberation Serif", serif' transform="translate(64.70 305.07) rotate(0) scale(0.885 1)">25</text>
<line x1="65.60" y1="291.95" x2="68.80" y2="291.95" stroke="#000" stroke-width="1.4"/>
<text x="0.00" y="0.00" font-size="7.46" text-anchor="end" font-weight="bold" font-family='"Liberation Serif", serif' transform="translate(64.70 294.85) rotate(0) scale(0.885 1)">30</text>
<line x1="65.60" y1="281.73" x2="68.80" y2="281.73" stroke="#000" stroke-width="1.4"/>
<text x="0.00" y="0.00" font-size="7.46" text-anchor="end" font-weight="bold" font-family='"Liberation Serif", serif' transform="translate(64.70 284.62) rotate(0) scale(0.885 1)">35</text>
<line x1="65.60" y1="271.50" x2="68.80" y2="271.50" stroke="#000" stroke-width="1.4"/>
<text x="0.00" y="0.00" font-size="7.46" text-anchor="end" font-weight="bold" font-family='"Liberation Serif", serif' transform="translate(64.70 274.40) rotate(0) scale(0.885 1)">40</text>
<line x1="70.50" y1="353.30" x2="70.50" y2="355.10" stroke="#000" stroke-width="0.8"/>
<line x1="80.80" y1="353.30" x2="80.80" y2="355.10" stroke="#000" stroke-width="0.8"/>
<line x1="91.50" y1="353.30" x2="91.50" y2="355.10" stroke="#000" stroke-width="0.8"/>
<line x1="103.80" y1="353.30" x2="103.80" y2="355.10" stroke="#000" stroke-width="0.8"/>
<line x1="116.20" y1="353.30" x2="116.20" y2="355.10" stroke="#000" stroke-width="0.8"/>
<line x1="127.70" y1="353.30" x2="127.70" y2="355.10" stroke="#000" stroke-width="0.8"/>
<line x1="139.20" y1="353.30" x2="139.20" y2="355.10" stroke="#000" stroke-width="0.8"/>
<line x1="150.50" y1="353.30" x2="150.50" y2="355.10" stroke="#000" stroke-width="0.8"/>
<line x1="162.30" y1="353.30" x2="162.30" y2="355.10" stroke="#000" stroke-width="0.8"/>
<line x1="173.80" y1="353.30" x2="173.80" y2="355.10" stroke="#000" stroke-width="0.8"/>
<line x1="184.20" y1="353.30" x2="184.20" y2="355.10" stroke="#000" stroke-width="0.8"/>
<line x1="195.20" y1="353.30" x2="195.20" y2="355.10" stroke="#000" stroke-width="0.8"/>
<line x1="206.30" y1="353.30" x2="206.30" y2="355.10" stroke="#000" stroke-width="0.8"/>
<rect x="72.00" y="343.60" width="5.50" height="9.70" fill="#000" stroke="none" stroke-width="0"/>
<rect x="82.40" y="287.00" width="7.00" height="66.30" fill="#000" stroke="none" stroke-width="0"/>
<line x1="85.90" y1="279.50" x2="85.90" y2="287.00" stroke="#000" stroke-width="1.2"/>
<line x1="83.00" y1="279.50" x2="88.80" y2="279.50" stroke="#000" stroke-width="1.2"/>
<rect x="93.70" y="292.40" width="6.70" height="60.90" fill="#000" stroke="none" stroke-width="0"/>
<line x1="97.05" y1="290.70" x2="97.05" y2="292.40" stroke="#000" stroke-width="1.2"/>
<line x1="94.30" y1="290.70" x2="99.80" y2="290.70" stroke="#000" stroke-width="1.2"/>
<rect x="106.10" y="289.40" width="7.50" height="63.90" fill="#000" stroke="none" stroke-width="0"/>
<line x1="109.85" y1="286.20" x2="109.85" y2="289.40" stroke="#000" stroke-width="1.2"/>
<line x1="106.70" y1="286.20" x2="113.00" y2="286.20" stroke="#000" stroke-width="1.2"/>
<rect x="117.90" y="296.20" width="6.90" height="57.10" fill="#000" stroke="none" stroke-width="0"/>
<line x1="121.35" y1="290.70" x2="121.35" y2="296.20" stroke="#000" stroke-width="1.2"/>
<line x1="118.50" y1="290.70" x2="124.20" y2="290.70" stroke="#000" stroke-width="1.2"/>
<rect x="130.30" y="344.80" width="5.30" height="8.50" fill="#000" stroke="none" stroke-width="0"/>
<rect x="141.10" y="338.60" width="5.30" height="14.70" fill="#000" stroke="none" stroke-width="0"/>
<rect x="153.20" y="345.50" width="5.80" height="7.80" fill="#000" stroke="none" stroke-width="0"/>
<rect x="165.00" y="343.00" width="6.20" height="10.30" fill="#000" stroke="none" stroke-width="0"/>
<line x1="168.10" y1="340.50" x2="168.10" y2="343.00" stroke="#000" stroke-width="1.2"/>
<line x1="165.60" y1="340.50" x2="170.60" y2="340.50" stroke="#000" stroke-width="1.2"/>
<rect x="175.70" y="342.80" width="5.40" height="10.50" fill="#000" stroke="none" stroke-width="0"/>
<rect x="186.60" y="292.00" width="6.30" height="61.30" fill="#000" stroke="none" stroke-width="0"/>
<line x1="189.75" y1="283.00" x2="189.75" y2="292.00" stroke="#000" stroke-width="1.2"/>
<line x1="187.20" y1="283.00" x2="192.30" y2="283.00" stroke="#000" stroke-width="1.2"/>
<rect x="196.90" y="286.20" width="6.70" height="67.10" fill="#000" stroke="none" stroke-width="0"/>
<line x1="200.25" y1="281.20" x2="200.25" y2="286.20" stroke="#000" stroke-width="1.2"/>
<line x1="197.50" y1="281.20" x2="203.00" y2="281.20" stroke="#000" stroke-width="1.2"/>
<rect x="208.60" y="344.80" width="5.40" height="8.50" fill="#000" stroke="none" stroke-width="0"/>
<line x1="211.30" y1="343.00" x2="211.30" y2="344.80" stroke="#000" stroke-width="1.2"/>
<line x1="209.20" y1="343.00" x2="213.40" y2="343.00" stroke="#000" stroke-width="1.2"/>
<text x="0.00" y="0.00" font-size="6.9" text-anchor="end" font-weight="bold" font-family='"Liberation Serif", serif' transform="translate(76.65 360.00) rotate(-90) scale(0.9 1)" stroke-width="0.15">vector</text>
<text x="0.00" y="0.00" font-size="6.9" text-anchor="end" font-weight="bold" font-family='"Liberation Serif", serif' transform="translate(87.65 360.00) rotate(-90) scale(0.9 1)" stroke-width="0.15">wtBRCA2</text>
<text x="0.00" y="0.00" font-size="6.9" text-anchor="end" font-weight="bold" font-family='"Liberation Serif", serif' transform="translate(98.45 360.00) rotate(-90) scale(0.9 1)" stroke-width="0.15">Y42C</text>
<text x="0.00" y="0.00" font-size="6.9" text-anchor="end" font-weight="bold" font-family='"Liberation Serif", serif' transform="translate(111.65 360.00) rotate(-90) scale(0.9 1)" stroke-width="0.15">H372N</text>
<text x="0.00" y="0.00" font-size="6.9" text-anchor="end" font-weight="bold" font-family='"Liberation Serif", serif' transform="translate(123.05 360.00) rotate(-90) scale(0.9 1)" stroke-width="0.15">E462G</text>
<text x="0.00" y="0.00" font-size="6.9" text-anchor="end" font-weight="bold" font-family='"Liberation Serif", serif' transform="translate(134.75 360.00) rotate(-90) scale(0.9 1)" stroke-width="0.15">T1302del</text>
<text x="0.00" y="0.00" font-size="6.9" text-anchor="end" font-weight="bold" font-family='"Liberation Serif", serif' transform="translate(146.15 360.00) rotate(-90) scale(0.9 1)" stroke-width="0.15">E1382del</text>
<text x="0.00" y="0.00" font-size="6.9" text-anchor="end" font-weight="bold" font-family='"Liberation Serif", serif' transform="translate(158.45 360.00) rotate(-90) scale(0.9 1)" stroke-width="0.15">T2515I</text>
<text x="0.00" y="0.00" font-size="6.9" text-anchor="end" font-weight="bold" font-family='"Liberation Serif", serif' transform="translate(170.15 360.00) rotate(-90) scale(0.9 1)" stroke-width="0.15">R2659K</text>
<text x="0.00" y="0.00" font-size="6.9" text-anchor="end" font-weight="bold" font-family='"Liberation Serif", serif' transform="translate(181.85 360.00) rotate(-90) scale(0.9 1)" stroke-width="0.15">D2723H</text>
<text x="0.00" y="0.00" font-size="6.9" text-anchor="end" font-weight="bold" font-family='"Liberation Serif", serif' transform="translate(192.25 360.00) rotate(-90) scale(0.9 1)" stroke-width="0.15">V2908G</text>
<text x="0.00" y="0.00" font-size="6.9" text-anchor="end" font-weight="bold" font-family='"Liberation Serif", serif' transform="translate(202.45 360.00) rotate(-90) scale(0.9 1)" stroke-width="0.15">K3326X</text>
<text x="0.00" y="0.00" font-size="6.9" text-anchor="end" font-weight="bold" font-family='"Liberation Serif", serif' transform="translate(213.25 360.00) rotate(-90) scale(0.9 1)" stroke-width="0.15">6174delT</text>
<text x="0.00" y="0.00" font-size="7.4" text-anchor="middle" font-weight="bold" font-family='"Liberation Serif", serif' transform="translate(51.60 311.60) rotate(-90) scale(0.885 1)">% cell survival</text>
<line x1="245.10" y1="261.10" x2="245.10" y2="354.20" stroke="#000" stroke-width="1.8"/>
<line x1="244.20" y1="353.40" x2="397.50" y2="353.40" stroke="#000" stroke-width="1.6"/>
<line x1="241.90" y1="353.40" x2="245.10" y2="353.40" stroke="#000" stroke-width="1.4"/>
<text x="0.00" y="0.00" font-size="7.46" text-anchor="end" font-weight="bold" font-family='"Liberation Serif", serif' transform="translate(241.90 356.30) rotate(0) scale(0.885 1)">0</text>
<line x1="241.90" y1="341.95" x2="245.10" y2="341.95" stroke="#000" stroke-width="1.4"/>
<text x="0.00" y="0.00" font-size="7.46" text-anchor="end" font-weight="bold" font-family='"Liberation Serif", serif' transform="translate(241.90 344.85) rotate(0) scale(0.885 1)">2</text>
<line x1="241.90" y1="330.50" x2="245.10" y2="330.50" stroke="#000" stroke-width="1.4"/>
<text x="0.00" y="0.00" font-size="7.46" text-anchor="end" font-weight="bold" font-family='"Liberation Serif", serif' transform="translate(241.90 333.40) rotate(0) scale(0.885 1)">4</text>
<line x1="241.90" y1="319.05" x2="245.10" y2="319.05" stroke="#000" stroke-width="1.4"/>
<text x="0.00" y="0.00" font-size="7.46" text-anchor="end" font-weight="bold" font-family='"Liberation Serif", serif' transform="translate(241.90 321.95) rotate(0) scale(0.885 1)">6</text>
<line x1="241.90" y1="307.60" x2="245.10" y2="307.60" stroke="#000" stroke-width="1.4"/>
<text x="0.00" y="0.00" font-size="7.46" text-anchor="end" font-weight="bold" font-family='"Liberation Serif", serif' transform="translate(241.90 310.50) rotate(0) scale(0.885 1)">8</text>
<line x1="241.90" y1="296.15" x2="245.10" y2="296.15" stroke="#000" stroke-width="1.4"/>
<text x="0.00" y="0.00" font-size="7.46" text-anchor="end" font-weight="bold" font-family='"Liberation Serif", serif' transform="translate(241.90 299.05) rotate(0) scale(0.885 1)">10</text>
<line x1="241.90" y1="284.70" x2="245.10" y2="284.70" stroke="#000" stroke-width="1.4"/>
<text x="0.00" y="0.00" font-size="7.46" text-anchor="end" font-weight="bold" font-family='"Liberation Serif", serif' transform="translate(241.90 287.60) rotate(0) scale(0.885 1)">12</text>
<line x1="241.90" y1="273.25" x2="245.10" y2="273.25" stroke="#000" stroke-width="1.4"/>
<text x="0.00" y="0.00" font-size="7.46" text-anchor="end" font-weight="bold" font-family='"Liberation Serif", serif' transform="translate(241.90 276.15) rotate(0) scale(0.885 1)">14</text>
<line x1="241.90" y1="261.80" x2="245.10" y2="261.80" stroke="#000" stroke-width="1.4"/>
<text x="0.00" y="0.00" font-size="7.46" text-anchor="end" font-weight="bold" font-family='"Liberation Serif", serif' transform="translate(241.90 264.70) rotate(0) scale(0.885 1)">16</text>
<line x1="256.80" y1="353.40" x2="256.80" y2="355.20" stroke="#000" stroke-width="0.8"/>
<line x1="268.55" y1="353.40" x2="268.55" y2="355.20" stroke="#000" stroke-width="0.8"/>
<line x1="280.75" y1="353.40" x2="280.75" y2="355.20" stroke="#000" stroke-width="0.8"/>
<line x1="293.85" y1="353.40" x2="293.85" y2="355.20" stroke="#000" stroke-width="0.8"/>
<line x1="306.35" y1="353.40" x2="306.35" y2="355.20" stroke="#000" stroke-width="0.8"/>
<line x1="317.65" y1="353.40" x2="317.65" y2="355.20" stroke="#000" stroke-width="0.8"/>
<line x1="329.00" y1="353.40" x2="329.00" y2="355.20" stroke="#000" stroke-width="0.8"/>
<line x1="340.25" y1="353.40" x2="340.25" y2="355.20" stroke="#000" stroke-width="0.8"/>
<line x1="351.90" y1="353.40" x2="351.90" y2="355.20" stroke="#000" stroke-width="0.8"/>
<line x1="363.55" y1="353.40" x2="363.55" y2="355.20" stroke="#000" stroke-width="0.8"/>
<line x1="374.70" y1="353.40" x2="374.70" y2="355.20" stroke="#000" stroke-width="0.8"/>
<line x1="386.30" y1="353.40" x2="386.30" y2="355.20" stroke="#000" stroke-width="0.8"/>
<rect x="248.40" y="345.40" width="5.50" height="8.00" fill="#000" stroke="none" stroke-width="0"/>
<rect x="259.70" y="280.50" width="6.80" height="72.90" fill="#000" stroke="none" stroke-width="0"/>
<line x1="263.10" y1="276.00" x2="263.10" y2="280.50" stroke="#000" stroke-width="1.2"/>
<line x1="260.30" y1="276.00" x2="265.90" y2="276.00" stroke="#000" stroke-width="1.2"/>
<rect x="270.60" y="282.40" width="7.40" height="71.00" fill="#000" stroke="none" stroke-width="0"/>
<line x1="274.30" y1="279.70" x2="274.30" y2="282.40" stroke="#000" stroke-width="1.2"/>
<line x1="271.20" y1="279.70" x2="277.40" y2="279.70" stroke="#000" stroke-width="1.2"/>
<rect x="283.50" y="272.00" width="7.70" height="81.40" fill="#000" stroke="none" stroke-width="0"/>
<line x1="287.35" y1="266.00" x2="287.35" y2="272.00" stroke="#000" stroke-width="1.2"/>
<line x1="284.10" y1="266.00" x2="290.60" y2="266.00" stroke="#000" stroke-width="1.2"/>
<rect x="296.50" y="277.00" width="7.50" height="76.40" fill="#000" stroke="none" stroke-width="0"/>
<line x1="300.25" y1="273.70" x2="300.25" y2="277.00" stroke="#000" stroke-width="1.2"/>
<line x1="297.10" y1="273.70" x2="303.40" y2="273.70" stroke="#000" stroke-width="1.2"/>
<rect x="308.70" y="343.30" width="6.10" height="10.10" fill="#000" stroke="none" stroke-width="0"/>
<rect x="320.50" y="341.40" width="5.50" height="12.00" fill="#000" stroke="none" stroke-width="0"/>
<line x1="323.25" y1="338.70" x2="323.25" y2="341.40" stroke="#000" stroke-width="1.2"/>
<line x1="321.10" y1="338.70" x2="325.40" y2="338.70" stroke="#000" stroke-width="1.2"/>
<rect x="332.00" y="345.00" width="5.50" height="8.40" fill="#000" stroke="none" stroke-width="0"/>
<rect x="343.00" y="346.40" width="6.00" height="7.00" fill="#000" stroke="none" stroke-width="0"/>
<rect x="354.80" y="345.50" width="6.00" height="7.90" fill="#000" stroke="none" stroke-width="0"/>
<line x1="357.80" y1="343.30" x2="357.80" y2="345.50" stroke="#000" stroke-width="1.2"/>
<line x1="355.40" y1="343.30" x2="360.20" y2="343.30" stroke="#000" stroke-width="1.2"/>
<rect x="366.30" y="281.60" width="6.30" height="71.80" fill="#000" stroke="none" stroke-width="0"/>
<line x1="369.45" y1="279.00" x2="369.45" y2="281.60" stroke="#000" stroke-width="1.2"/>
<line x1="366.90" y1="279.00" x2="372.00" y2="279.00" stroke="#000" stroke-width="1.2"/>
<rect x="376.80" y="280.50" width="6.80" height="72.90" fill="#000" stroke="none" stroke-width="0"/>
<line x1="380.20" y1="278.30" x2="380.20" y2="280.50" stroke="#000" stroke-width="1.2"/>
<line x1="377.40" y1="278.30" x2="383.00" y2="278.30" stroke="#000" stroke-width="1.2"/>
<rect x="389.00" y="347.00" width="5.30" height="6.40" fill="#000" stroke="none" stroke-width="0"/>
<text x="0.00" y="0.00" font-size="6.9" text-anchor="end" font-weight="bold" font-family='"Liberation Serif", serif' transform="translate(253.15 360.00) rotate(-90) scale(0.9 1)" stroke-width="0.15">vector</text>
<text x="0.00" y="0.00" font-size="6.9" text-anchor="end" font-weight="bold" font-family='"Liberation Serif", serif' transform="translate(265.25 360.00) rotate(-90) scale(0.9 1)" stroke-width="0.15">wtBRCA2</text>
<text x="0.00" y="0.00" font-size="6.9" text-anchor="end" font-weight="bold" font-family='"Liberation Serif", serif' transform="translate(276.65 360.00) rotate(-90) scale(0.9 1)" stroke-width="0.15">Y42C</text>
<text x="0.00" y="0.00" font-size="6.9" text-anchor="end" font-weight="bold" font-family='"Liberation Serif", serif' transform="translate(289.75 360.00) rotate(-90) scale(0.9 1)" stroke-width="0.15">H372N</text>
<text x="0.00" y="0.00" font-size="6.9" text-anchor="end" font-weight="bold" font-family='"Liberation Serif", serif' transform="translate(301.85 360.00) rotate(-90) scale(0.9 1)" stroke-width="0.15">E462G</text>
<text x="0.00" y="0.00" font-size="6.9" text-anchor="end" font-weight="bold" font-family='"Liberation Serif", serif' transform="translate(314.25 360.00) rotate(-90) scale(0.9 1)" stroke-width="0.15">T1302del</text>
<text x="0.00" y="0.00" font-size="6.9" text-anchor="end" font-weight="bold" font-family='"Liberation Serif", serif' transform="translate(325.65 360.00) rotate(-90) scale(0.9 1)" stroke-width="0.15">E1382del</text>
<text x="0.00" y="0.00" font-size="6.9" text-anchor="end" font-weight="bold" font-family='"Liberation Serif", serif' transform="translate(337.95 360.00) rotate(-90) scale(0.9 1)" stroke-width="0.15">T2515I</text>
<text x="0.00" y="0.00" font-size="6.9" text-anchor="end" font-weight="bold" font-family='"Liberation Serif", serif' transform="translate(348.75 360.00) rotate(-90) scale(0.9 1)" stroke-width="0.15">R2659K</text>
<text x="0.00" y="0.00" font-size="6.9" text-anchor="end" font-weight="bold" font-family='"Liberation Serif", serif' transform="translate(359.85 360.00) rotate(-90) scale(0.9 1)" stroke-width="0.15">D2723H</text>
<text x="0.00" y="0.00" font-size="6.9" text-anchor="end" font-weight="bold" font-family='"Liberation Serif", serif' transform="translate(371.65 360.00) rotate(-90) scale(0.9 1)" stroke-width="0.15">V2908G</text>
<text x="0.00" y="0.00" font-size="6.9" text-anchor="end" font-weight="bold" font-family='"Liberation Serif", serif' transform="translate(382.85 360.00) rotate(-90) scale(0.9 1)" stroke-width="0.15">K3326X</text>
<text x="0.00" y="0.00" font-size="6.9" text-anchor="end" font-weight="bold" font-family='"Liberation Serif", serif' transform="translate(394.55 360.00) rotate(-90) scale(0.9 1)" stroke-width="0.15">6174delT</text>
<text x="0.00" y="0.00" font-size="7.4" text-anchor="middle" font-weight="bold" font-family='"Liberation Serif", serif' transform="translate(227.30 310.60) rotate(-90) scale(0.885 1)">% cell viability</text>
</g>
<rect x="0.00" y="0.00" width="520.00" height="1.20" fill="#000" stroke="none" stroke-width="0"/>
<rect x="0.00" y="0.00" width="1.30" height="401.00" fill="#000" stroke="none" stroke-width="0"/>
<rect x="518.10" y="0.00" width="1.90" height="401.00" fill="#000" stroke="none" stroke-width="0"/>
<rect x="0.00" y="398.50" width="520.00" height="2.00" fill="#000" stroke="none" stroke-width="0"/>
<rect x="0.00" y="400.50" width="520.00" height="0.50" fill="#999" stroke="none" stroke-width="0"/>
<g>
</g>
</svg>
</body>
</html>
